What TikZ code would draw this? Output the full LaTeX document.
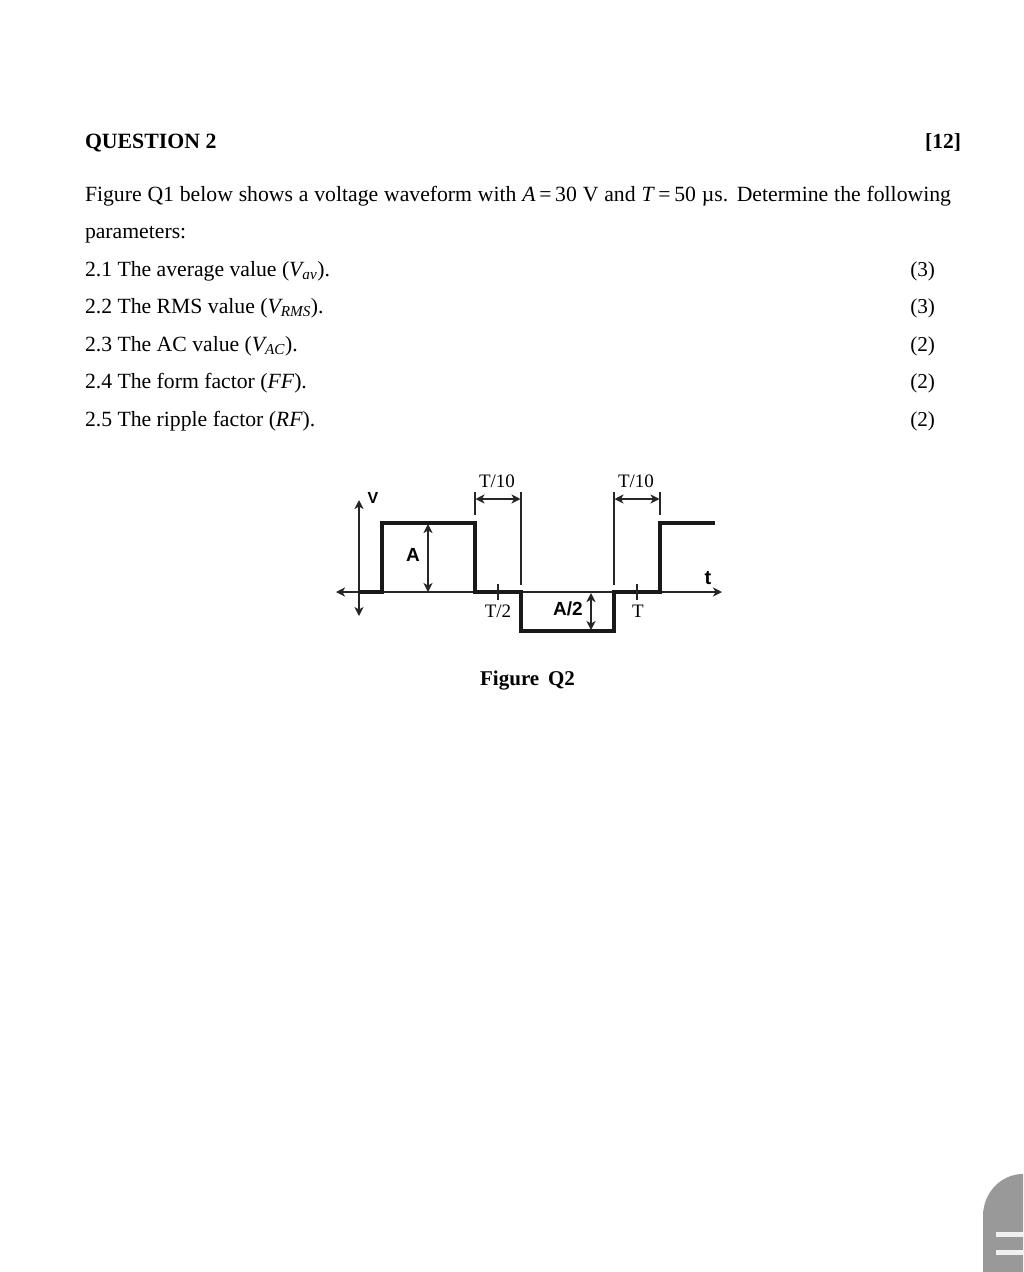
\documentclass[tikz,border=0pt]{standalone}
\usepackage{fontspec}
\setmainfont{Liberation Serif}
\newfontfamily\lsans{Liberation Sans}
\usetikzlibrary{arrows.meta}
\begin{document}
\begin{tikzpicture}[x=1pt,y=-1pt,
  txt/.style={anchor=base west,inner sep=0pt,outer sep=0pt,font=\fontsize{21.7}{25}\selectfont},
  txtr/.style={anchor=base east,inner sep=0pt,outer sep=0pt,font=\fontsize{21.2}{25}\selectfont},
  lab/.style={inner sep=0pt,font=\fontsize{19}{22}\selectfont},
  blab/.style={inner sep=0pt,font=\lsans\bfseries\fontsize{19}{22}\selectfont},
  axisline/.style={line width=1.5pt,black!85,{Stealth[length=9pt,width=9pt,inset=2.5pt]}-{Stealth[length=9pt,width=9pt,inset=2.5pt]}},
  thin line/.style={line width=1.4pt,black!85},
  dim/.style={line width=1.5pt,black!85,{Stealth[length=9pt,width=9pt,inset=2.5pt]}-{Stealth[length=9pt,width=9pt,inset=2.5pt]}},
  wave/.style={line width=3.6pt,black!90,line join=miter}]
\useasboundingbox (0,0) rectangle (1023,1272);
\fill[white] (0,0) rectangle (1023,1272);
% text
\node[txt,font=\bfseries\fontsize{21.8}{25}\selectfont] (q) at (85,148) {QUESTION 2};
\node[txtr,font=\bfseries\fontsize{21.5}{25}\selectfont] (m) at (961,148) {[12]};
\node[txt] (l1) at (85,201) {\makebox[866pt][s]{Figure Q1 below shows a voltage waveform with \textit{A}\,=\,30 V and \textit{T}\,=\,50 µs. Determine the following}};
\node[txt] (l2) at (85,238) {parameters:};
\node[txt] (i1) at (85,276) {2.1 The average value (\textit{V\textsubscript{av}}).};
\node[txt] (i2) at (85,313) {2.2 The RMS value (\textit{V\textsubscript{RMS}}).};
\node[txt] (i3) at (85,351) {2.3 The AC value (\textit{V\textsubscript{AC}}).};
\node[txt] (i4) at (85,388) {2.4 The form factor (\textit{FF}).};
\node[txt] (i5) at (85,426) {2.5 The ripple factor (\textit{RF}).};
\node[txtr] (p1) at (935,276) {(3)};
\node[txtr] (p2) at (935,313) {(3)};
\node[txtr] (p3) at (935,351) {(2)};
\node[txtr] (p4) at (935,388) {(2)};
\node[txtr] (p5) at (935,426) {(2)};
\node[txt,anchor=base,font=\bfseries\fontsize{21}{25}\selectfont] (cap) at (527.5,685) {Figure\, Q2};
% coordinates
\coordinate (va) at (359,500); \coordinate (vb) at (359,616);
\coordinate (ha) at (336,592); \coordinate (hb) at (722,592);
\coordinate (w0) at (359,592); \coordinate (w1) at (382,592); \coordinate (w2) at (382,523);
\coordinate (w3) at (475,523); \coordinate (w4) at (475,592); \coordinate (w5) at (521,592);
\coordinate (w6) at (521,631); \coordinate (w7) at (614,631); \coordinate (w8) at (614,592);
\coordinate (w9) at (660,592); \coordinate (w10) at (660,523); \coordinate (w11) at (715,523);
% axes
\draw[axisline] (va) -- (vb);
\draw[axisline] (ha) -- (hb);
% waveform
\draw[wave] (w0) -- (w1) -- (w2) -- (w3) -- (w4) -- (w5) -- (w6) -- (w7) -- (w8) -- (w9) -- (w10) -- (w11);
% dimension arrows
\coordinate (aa) at (428,524); \coordinate (ab) at (428,592);
\coordinate (ba) at (591,593); \coordinate (bb) at (591,630);
\draw[dim] (aa) -- (ab);
\draw[dim] (ba) -- (bb);
% extension lines
\coordinate (e1a) at (475,492); \coordinate (e1b) at (475,515);
\coordinate (e2a) at (521,492); \coordinate (e2b) at (521,585);
\coordinate (e3a) at (614,492); \coordinate (e3b) at (614,585);
\coordinate (e4a) at (660,492); \coordinate (e4b) at (660,515);
\draw[thin line] (e1a) -- (e1b); \draw[thin line] (e2a) -- (e2b);
\draw[thin line] (e3a) -- (e3b); \draw[thin line] (e4a) -- (e4b);
\coordinate (d1a) at (475.5,499); \coordinate (d1b) at (520.5,499);
\coordinate (d2a) at (614.5,499); \coordinate (d2b) at (659.5,499);
\draw[dim] (d1a) -- (d1b);
\draw[dim] (d2a) -- (d2b);
% ticks
\coordinate (t1a) at (498,584); \coordinate (t1b) at (498,600);
\coordinate (t2a) at (637,584); \coordinate (t2b) at (637,600);
\draw[thin line] (t1a) -- (t1b); \draw[thin line] (t2a) -- (t2b);
% labels
\node[lab] (lt1) at (497,481) {T/10};
\node[lab] (lt2) at (636,481) {T/10};
\node[lab] (lt3) at (498,611) {T/2};
\node[lab] (lt4) at (638,611) {T};
\node[blab] (la) at (413,555) {A};
\node[blab] (la2) at (568,609) {A/2};
\node[blab,font=\lsans\bfseries\fontsize{16}{18}\selectfont] (lv) at (373,498) {V};
\node[blab,font=\lsans\bfseries\fontsize{20}{22}\selectfont] (lt) at (708,578) {t};
% corner tab
\fill[black!40] (1023,1272) -- (983,1272) -- (983,1216) arc[start angle=180,end angle=90,x radius=40,y radius=-42] -- (1023,1174) -- cycle;
\fill[black!6] (996,1232) rectangle (1023,1237);
\fill[black!6] (996,1250) rectangle (1023,1255);
\end{tikzpicture}
\end{document}
